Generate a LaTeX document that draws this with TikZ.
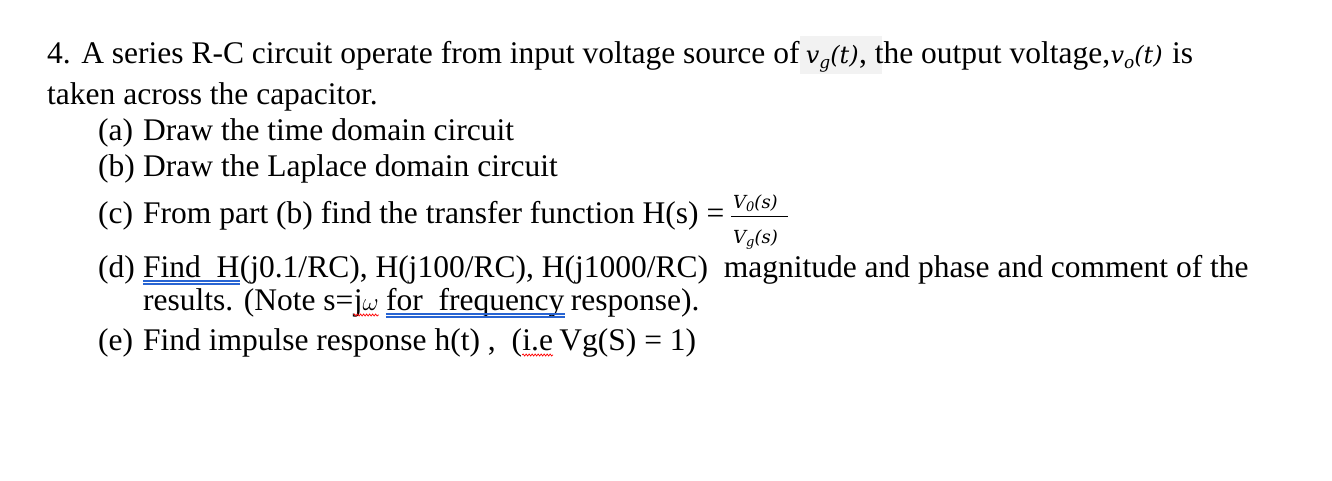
\documentclass[tikz,border=0pt]{standalone}
\usepackage{fontspec}
\setmainfont{Liberation Serif}
\newfontfamily\mfont{DejaVu Serif}
\usetikzlibrary{decorations.pathmorphing}
\definecolor{ulblue}{RGB}{40,100,210}
\begin{document}
\begin{tikzpicture}[x=1pt,y=1pt,
  txt/.style={anchor=base west,inner sep=0pt,font=\fontsize{31.5}{34}\selectfont},
  mth/.style={anchor=base west,inner sep=0pt,font=\fontsize{24}{26}\mfont\itshape},
  lbl/.style={anchor=base west,inner sep=0pt,font=\fontsize{31.5}{34}\selectfont},
  blu/.style={ulblue,line width=1.3pt},
  squig/.style={red,line width=0.7pt,decorate,decoration={snake,amplitude=1pt,segment length=3pt}}]
\useasboundingbox (0,0) rectangle (1332,-480);
\fill[gray!10] (800,-36) rectangle (882,-74);
\node[txt] (l1a) at (47,-63) {4. A series R-C circuit operate from input voltage source of};
\node[mth] (vg) at ([xshift=6pt]l1a.base east) {v\raisebox{-5pt}{\fontsize{17}{18}\selectfont g}(t)};
\node[txt] (l1b) at (vg.base east) {, the output voltage, };
\node[mth] (vo) at (l1b.base east) {v\raisebox{-5pt}{\fontsize{17}{18}\selectfont o}(t)};
\node[txt] (l1c) at ([xshift=9pt]vo.base east) {is};
\node[txt] (l2) at (47,-104) {taken across the capacitor.};
\node[lbl] (a) at (98,-140) {(a)};
\node[txt] (at) at (143,-140) {Draw the time domain circuit};
\node[lbl] (b) at (98,-176) {(b)};
\node[txt] (bt) at (143,-176) {Draw the Laplace domain circuit};
\node[lbl] (c) at (98,-223) {(c)};
\node[txt] (ct) at (143,-223) {From part (b) find the transfer function H(s) =};
\node[mth,font=\fontsize{18}{19}\mfont\itshape] (num) at (733,-208) {V\raisebox{-3pt}{\fontsize{13}{13}\selectfont 0}(s)};
\node[mth,font=\fontsize{18}{19}\mfont\itshape] (den) at (733,-243) {V\raisebox{-3pt}{\fontsize{13}{13}\selectfont g}(s)};
\draw[line width=0.9pt] (731,-216) -- (788,-216);
\node[lbl] (d1) at (98,-277) {(d)};
\node[txt] (dfind) at (143,-277) {Find\ \ H};
\node[txt] (drest) at (dfind.base east) {(j0.1/RC), H(j100/RC), H(j1000/RC)\ \ magnitude and phase and comment of the};
\draw[blu] ([yshift=-4pt]dfind.base west) -- ([yshift=-4pt]dfind.base east);
\draw[blu] ([yshift=-7pt]dfind.base west) -- ([yshift=-7pt]dfind.base east);
\node[txt] (r1) at (143,-310) {results. (Note s=};
\node[txt] (jw) at (r1.base east) {j$\omega$};
\node[txt] (r2) at ([xshift=7pt]jw.base east) {for\ \ frequency};
\node[txt] (r3) at ([xshift=6pt]r2.base east) {response).};
\draw[squig] ([yshift=-5pt]jw.base west) -- ([yshift=-5pt]jw.base east);
\draw[blu] ([yshift=-4pt]r2.base west) -- ([yshift=-4pt]r2.base east);
\draw[blu] ([yshift=-7pt]r2.base west) -- ([yshift=-7pt]r2.base east);
\node[lbl] (e) at (98,-350) {(e)};
\node[txt] (e1) at (143,-350) {Find impulse response h(t) ,\ \ (};
\node[txt] (ie) at (e1.base east) {i.e};
\node[txt] (e2) at ([xshift=6pt]ie.base east) {Vg(S) = 1)};
\draw[squig] ([yshift=-5pt]ie.base west) -- ([yshift=-5pt]ie.base east);
\end{tikzpicture}
\end{document}
